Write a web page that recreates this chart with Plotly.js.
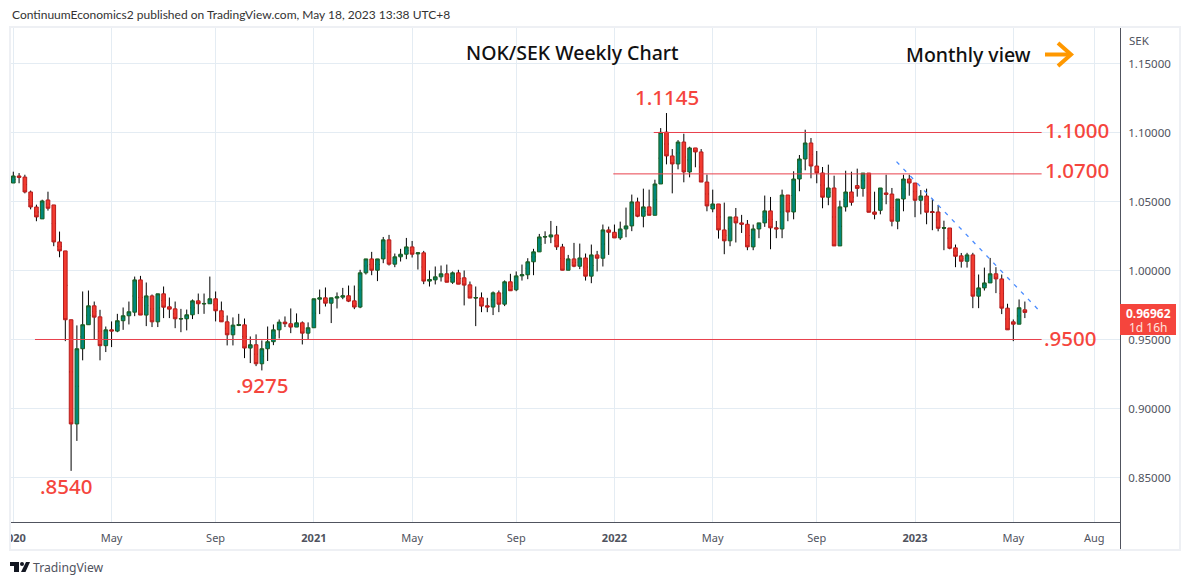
<!DOCTYPE html>
<html><head><meta charset="utf-8">
<script src="https://cdn.plot.ly/plotly-3.0.1.min.js"></script>
<style>html,body{margin:0;padding:0;background:#fff}#c{width:1190px;height:585px}</style>
</head><body><div id="c"></div>
<script>
const opens=[1.0634,1.0685,1.0677,1.0569,1.0460,1.0374,1.0511,1.0475,1.0207,1.0142,.9643,.8888,.9433,.9607,.9744,.9664,.9455,.9570,.9561,.9636,.9672,.9698,.9932,.9677,.9816,.9628,.9831,.9737,.9722,.9650,.9650,.9679,.9780,.9759,.9759,.9795,.9708,.9628,.9534,.9604,.9606,.9438,.9462,.9324,.9433,.9484,.9570,.9626,.9614,.9590,.9621,.9546,.9585,.9792,.9802,.9763,.9800,.9807,.9817,.9780,.9735,.9983,1.0084,1.0002,1.0084,1.0222,1.0046,1.0099,1.0118,1.0171,1.0120,1.0128,.9923,.9932,.9954,.9976,.9915,.9983,.9947,.9896,.9802,.9802,.9744,.9735,.9838,.9756,.9918,.9860,.9961,.9969,1.0063,1.0135,1.0244,1.0243,1.0258,1.0171,1.0002,1.0084,1.0031,1.0091,.9959,1.0113,1.0089,1.0294,1.0277,1.0236,1.0301,1.0323,1.0497,1.0393,1.0461,1.0400,1.0627,1.1003,1.0830,1.0772,1.0931,1.0714,1.0888,1.0859,1.0641,1.0446,1.0482,1.0294,1.0215,1.0388,1.0345,1.0335,1.0171,1.0301,1.0345,1.0432,1.0309,1.0301,1.0547,1.0424,1.0663,1.0808,1.0924,1.0757,1.0707,1.0531,1.0598,1.0178,1.0461,1.0569,1.0615,1.0595,1.0706,1.0424,1.0436,1.0562,1.0554,1.0357,1.0518,1.0663,1.0634,1.0509,1.0540,1.0424,1.0424,1.0308,1.0308,1.0164,1.0106,1.0067,1.0113,.9814,.9874,.9910,.9976,.9939,.9727,.9628,.9611,.9715];
const closes=[1.0685,1.0675,1.0569,1.0460,1.0388,1.0504,1.0451,1.0207,1.0142,.9643,.8888,.9433,.9607,.9744,.9662,.9455,.9570,.9561,.9636,.9672,.9701,.9932,.9677,.9816,.9628,.9831,.9734,.9720,.9650,.9652,.9679,.9780,.9759,.9761,.9795,.9708,.9628,.9534,.9604,.9606,.9438,.9462,.9324,.9433,.9484,.9570,.9626,.9614,.9590,.9621,.9546,.9585,.9795,.9802,.9763,.9802,.9809,.9817,.9778,.9735,.9983,1.0084,1.0002,1.0084,1.0222,1.0046,1.0099,1.0118,1.0171,1.0118,1.0128,.9923,.9935,.9954,.9976,.9915,.9983,.9901,.9894,.9800,.9804,.9742,.9735,.9838,.9756,.9918,.9853,.9961,.9969,1.0063,1.0135,1.0243,1.0246,1.0258,1.0171,1.0002,1.0084,1.0031,1.0091,.9959,1.0113,1.0089,1.0294,1.0277,1.0236,1.0301,1.0323,1.0497,1.0393,1.0461,1.0400,1.0627,1.1001,1.0830,1.0772,1.0931,1.0714,1.0888,1.0859,1.0641,1.0468,1.0482,1.0294,1.0215,1.0388,1.0345,1.0335,1.0171,1.0301,1.0345,1.0432,1.0309,1.0301,1.0547,1.0424,1.0663,1.0808,1.0924,1.0757,1.0707,1.0531,1.0598,1.0178,1.0461,1.0569,1.0494,1.0595,1.0706,1.0422,1.0407,1.0598,1.0552,1.0357,1.0518,1.0663,1.0634,1.0509,1.0540,1.0422,1.0422,1.0306,1.0310,1.0161,1.0103,1.0067,1.0113,.9814,.9874,.9910,.9976,.9939,.9727,.9570,.9611,.9730,.96962];
const highs=[1.0716,1.0706,1.0694,1.0579,1.0477,1.0513,1.0571,1.0475,1.0282,1.0142,.9643,.9602,.9848,.9855,.9775,.9715,.9594,.9631,.9686,.9732,.9775,.9956,.9961,.9913,.9826,.9831,.9884,.9804,.9775,.9722,.9717,.9790,.9833,.9833,.9956,.9848,.9775,.9674,.9660,.9686,.9652,.9522,.9537,.9493,.9594,.9609,.9645,.9667,.9725,.9689,.9631,.9624,.9795,.9862,.9877,.9802,.9841,.9874,.9891,.9891,1.0005,1.0084,1.0135,1.0084,1.0243,1.0258,1.0123,1.0157,1.0236,1.0214,1.0130,1.0142,1.0000,1.0029,1.0036,1.0043,.9993,1.0005,1.0000,.9920,.9884,.9841,.9802,.9848,.9855,.9928,.9976,.9993,1.0043,1.0089,1.0157,1.0265,1.0284,1.0359,1.0323,1.0193,1.0113,1.0200,1.0195,1.0123,1.0188,1.0142,1.0333,1.0318,1.0333,1.0354,1.0456,1.0550,1.0528,1.0593,1.0586,1.0658,1.1032,1.1141,1.0880,1.0945,1.0991,1.0897,1.0888,1.0880,1.0695,1.0586,1.0482,1.0492,1.0388,1.0453,1.0403,1.0366,1.0333,1.0345,1.0543,1.0533,1.0359,1.0586,1.0547,1.0719,1.0837,1.1020,1.0960,1.0866,1.0750,1.0767,1.0687,1.0506,1.0723,1.0716,1.0738,1.0706,1.0706,1.0571,1.0598,1.0694,1.0598,1.0518,1.0694,1.0694,1.0634,1.0583,1.0593,1.0520,1.0475,1.0361,1.0308,1.0188,1.0127,1.0128,1.0128,.9971,1.0021,1.0091,1.0024,.9971,.9759,.9645,.9790,.9775];
const lows=[1.0634,1.0632,1.0559,1.0443,1.0357,1.0374,1.0434,1.0176,1.0096,.9488,.8548,.8765,.9349,.9607,.9498,.9349,.9409,.9445,.9553,.9570,.9609,.9669,.9677,.9597,.9590,.9590,.9655,.9655,.9582,.9553,.9566,.9648,.9684,.9686,.9759,.9631,.9628,.9457,.9457,.9597,.9365,.9329,.9307,.9276,.9344,.9459,.9508,.9590,.9546,.9590,.9464,.9498,.9585,.9684,.9739,.9619,.9725,.9792,.9771,.9720,.9727,.9971,.9966,.9923,1.0053,1.0036,1.0024,1.0065,1.0082,1.0094,1.0007,.9901,.9884,.9899,.9920,.9915,.9903,.9901,.9747,.9800,.9597,.9698,.9698,.9677,.9698,.9742,.9853,.9850,.9927,.9937,.9966,1.0135,1.0193,1.0198,1.0149,1.0002,1.0002,1.0024,1.0010,.9927,.9908,.9993,1.0029,1.0113,1.0236,1.0222,1.0241,1.0285,1.0386,1.0313,1.0400,1.0400,1.0627,1.0769,1.0559,1.0733,1.0639,1.0675,1.0748,1.0641,1.0429,1.0422,1.0231,1.0118,1.0176,1.0203,1.0272,1.0147,1.0147,1.0234,1.0316,1.0154,1.0234,1.0234,1.0357,1.0371,1.0574,1.0726,1.0668,1.0632,1.0451,1.0473,1.0178,1.0178,1.0427,1.0470,1.0535,1.0535,1.0422,1.0371,1.0407,1.0480,1.0320,1.0299,1.0429,1.0542,1.0386,1.0407,1.0335,1.0292,1.0284,1.0147,1.0154,1.0024,1.0021,1.0021,.9727,.9727,.9855,.9910,.9836,.9684,.9570,.9488,.9611,.9655];

const tickWeeks=[0,17,35,52,69,87,104,121,139,156,173,187];
const tickLabels=["<b>2020</b>","May","Sep","<b>2021</b>","May","Sep","<b>2022</b>","May","Sep","<b>2023</b>","May","Aug"];
const priceTicks=[.85,.9,.95,1,1.05,1.1,1.15];

const levelPrices=[1.10,1.07,.95];
const levelStartWeeks=[110.8,103.8,3.75];
const levelEndWeek=177.9;
const trendWeeks=[152.8,177.9];
const trendPrices=[1.0789,.9691];

const weeks=opens.map((_,i)=>i);
const PL=10,PR=1120,PT=28,PB=522;
const px=x=>(x-PL)/(PR-PL), py=y=>(PB-y)/(PB-PT);
const font="'Noto Sans',sans-serif";

const traces=[];
traces.push({type:'candlestick',x:weeks,
  open:opens.map((o,i)=>(o+closes[i])/2),close:opens.map((o,i)=>(o+closes[i])/2),
  high:highs,low:lows,whiskerwidth:0,hoverinfo:'skip',showlegend:false,
  increasing:{line:{color:'#000',width:1},fillcolor:'#000'},
  decreasing:{line:{color:'#000',width:1},fillcolor:'#000'}});
traces.push({type:'candlestick',x:weeks,open:opens,close:closes,
  high:opens.map((o,i)=>Math.max(o,closes[i])),low:opens.map((o,i)=>Math.min(o,closes[i])),
  whiskerwidth:0,showlegend:false,
  increasing:{line:{color:'#1b5e20',width:1},fillcolor:'#00897b'},
  decreasing:{line:{color:'#b71c1c',width:1},fillcolor:'#f23b30'}});
levelPrices.forEach((p,k)=>traces.push({type:'scatter',mode:'lines',x:[levelStartWeeks[k],levelEndWeek],y:[p,p],
  line:{color:'#e8404c',width:1},showlegend:false,hoverinfo:'skip'}));
traces.push({type:'scatter',mode:'lines',x:trendWeeks,y:trendPrices,
  line:{color:'#4a8cff',width:1.3,dash:'4px,6px'},showlegend:false,hoverinfo:'skip'});

const note=(t,x,y,size,color,anchor,extra,fam,weight)=>Object.assign({text:t,xref:'paper',yref:'paper',x:px(x),y:py(y),
  xanchor:anchor||'left',yanchor:'middle',showarrow:false,font:{family:fam||font,size:size,color:color,weight:weight||400}},extra||{});
const RED='#f5453d';
const annotations=[
  note('ContinuumEconomics2 published on TradingView.com, May 18, 2023 13:38 UTC+8',10,15,12,'#333','left',null,"Lato,sans-serif"),
  note('NOK/SEK Weekly Chart',572,53,19.5,'#111','center',null,font,500),
  note('Monthly view',904,54,19.5,'#111','left',null,font,500),
  note('1.1145',633,97,20.5,RED,'left',null,font,500),
  note('1.1000',1043,130,20.5,RED,'left',null,font,500),
  note('1.0700',1043,170,20.5,RED,'left',null,font,500),
  note('.9500',1041.5,338,20.5,RED,'left',null,font,500),
  note('.9275',233.5,385,20.5,RED,'left',null,font,500),
  note('.8540',38,486,20.5,RED,'left',null,font,500),
  note('SEK',1127,40,11.5,'#50535e'),
  note('<b>0.96962</b>',1148.5,313,12,'#fff','center'),
  note('1d 16h',1148.5,327,12,'#ffe3df','center'),
  note('TradingView',31,567,12.2,'#50535e'),
];
const rect=(x0,y0,x1,y1,o)=>Object.assign({type:'rect',xref:'paper',yref:'paper',x0:px(x0),x1:px(x1),y0:py(y0),y1:py(y1),layer:'above'},o);
const path=(pts,o)=>Object.assign({type:'path',xref:'paper',yref:'paper',layer:'above',
  path:pts.map((p,i)=>(p[0]==='M'?'M':'L')+px(p[1])+','+py(p[2])).join(' ')},o);
const shapes=[
  rect(0,524,9.5,548,{fillcolor:'#fff',line:{width:0}}),
  rect(10,27,1180,550,{fillcolor:'rgba(0,0,0,0)',line:{color:'#eef0f4',width:2}}),
  {type:'line',xref:'paper',yref:'paper',x0:px(1120.5),x1:px(1120.5),y0:py(522),y1:py(549),layer:'above',line:{color:'#50535e',width:1}},
  rect(1120,304,1176,335,{fillcolor:'#f5453d',line:{width:0}}),
  path([['M',1045,54.5],['L',1070,54.5]],{line:{color:'#ff9800',width:4}}),
  path([['M',1058,43],['L',1071,54.5],['L',1058,66]],{line:{color:'#ff9800',width:4}}),
  path([['M',10,562],['L',19,562],['L',19,572],['L',14,572],['L',14,566],['L',10,566],['L',10,562]],{fillcolor:'#131722',line:{width:0}}),
  path([['M',26,562],['L',30,562],['L',25.5,572],['L',21,572],['L',26,562]],{fillcolor:'#131722',line:{width:0}}),
  {type:'circle',xref:'paper',yref:'paper',layer:'above',x0:px(20),x1:px(24),y0:py(566),y1:py(562),fillcolor:'#131722',line:{width:0}},
];
const layout={
  width:1190,height:585,paper_bgcolor:'#fff',plot_bgcolor:'#fff',
  margin:{l:PL,r:1190-PR,t:PT,b:585-PB,autoexpand:false},showlegend:false,boxmode:'overlay',boxgap:0.1,
  font:{family:font},
  xaxis:{type:'linear',range:[-0.571,191.46],tickmode:'array',tickvals:tickWeeks,ticktext:tickLabels,
    rangeslider:{visible:false},showgrid:true,gridcolor:'#e4ecf3',gridwidth:1,zeroline:false,
    showline:true,linecolor:'#50535e',linewidth:1,ticks:'',ticklabelstandoff:6,
    tickfont:{family:font,size:11,color:'#50535e'}},
  yaxis:{side:'right',range:[.81775,1.17572],tickmode:'array',tickvals:priceTicks,ticktext:priceTicks.map(v=>v.toFixed(5)),
    showgrid:true,gridcolor:'#e4ecf3',gridwidth:1,zeroline:false,showline:true,linecolor:'#50535e',linewidth:1,
    ticks:'',ticklabelstandoff:5,tickfont:{family:font,size:11.5,color:'#50535e'}},
  annotations,shapes
};
Plotly.newPlot('c',traces,layout,{staticPlot:true,displayModeBar:false});
</script></body></html>
